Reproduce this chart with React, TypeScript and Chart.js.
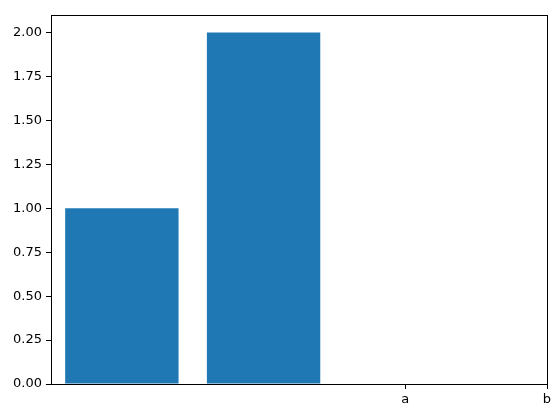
import React, { useEffect, useRef } from "react";
import { Chart, registerables } from "chart.js";

Chart.register(...registerables);

const barPositions = [0, 1];
const barValues = [1, 2];
const xTickPositions = [2, 3];
const xTickLabels = ["a", "b"];
const yTickValues = [0, 0.25, 0.5, 0.75, 1.0, 1.25, 1.5, 1.75, 2.0];

const frame = {
  id: "frame",
  afterDraw(chart: any) {
    const { ctx, chartArea } = chart;
    ctx.save();
    ctx.strokeStyle = "#000";
    ctx.lineWidth = 1;
    ctx.strokeRect(
      Math.round(chartArea.left) + 0.5,
      Math.round(chartArea.top) + 0.5,
      Math.round(chartArea.right - chartArea.left),
      Math.round(chartArea.bottom - chartArea.top)
    );
    ctx.restore();
  },
};

export default function App() {
  const ref = useRef<HTMLCanvasElement>(null);
  useEffect(() => {
    if (!ref.current) return;
    const font = { family: "DejaVu Sans", size: 13 };
    const chart = new Chart(ref.current, {
      type: "bar",
      data: {
        datasets: [
          {
            data: barPositions.map((x, i) => ({ x, y: barValues[i] })),
            backgroundColor: "#1f77b4",
            borderColor: "#1f77b4",
            borderWidth: 0,
            inflateAmount: 0,
            categoryPercentage: 1,
            barPercentage: 0.8,
          } as any,
        ],
      },
      options: {
        animation: false,
        responsive: false,
        maintainAspectRatio: false,
        layout: { padding: { left: 0, top: 15, right: 13, bottom: 0 } },
        plugins: { legend: { display: false }, tooltip: { enabled: false } },
        scales: {
          x: {
            type: "linear",
            min: -0.5,
            max: 3,
            offset: false,
            afterBuildTicks: (scale: any) => {
              scale.ticks = xTickPositions.map((v) => ({ value: v }));
            },
            afterFit: (scale: any) => {
              scale.height = 31;
            },
            ticks: {
              color: "#000",
              font,
              padding: 3,
              maxRotation: 0,
              autoSkip: false,
              callback: (v: any) => {
                const i = xTickPositions.indexOf(Number(v));
                return i >= 0 ? xTickLabels[i] : "";
              },
            },
            grid: {
              display: true,
              offset: false,
              drawOnChartArea: false,
              drawTicks: true,
              tickLength: 5,
              color: "#000",
            },
            border: { display: true, color: "#000" },
          },
          y: {
            type: "linear",
            min: 0,
            max: 2.1,
            afterBuildTicks: (scale: any) => {
              scale.ticks = yTickValues.map((v) => ({ value: v }));
            },
            afterFit: (scale: any) => {
              scale.width = 51;
            },
            ticks: {
              color: "#000",
              font,
              padding: 4,
              callback: (v: any) => Number(v).toFixed(2),
            },
            grid: {
              display: true,
              drawOnChartArea: false,
              drawTicks: true,
              tickLength: 5,
              color: "#000",
            },
            border: { display: true, color: "#000" },
          },
        },
      } as any,
      plugins: [frame],
    });
    return () => chart.destroy();
  }, []);
  return (
    <div style={{ position: "fixed", left: 0, top: 0, width: 560, height: 415, background: "#fff" }}>
      <canvas ref={ref} width={560} height={415} style={{ width: 560, height: 415 }} />
    </div>
  );
}
